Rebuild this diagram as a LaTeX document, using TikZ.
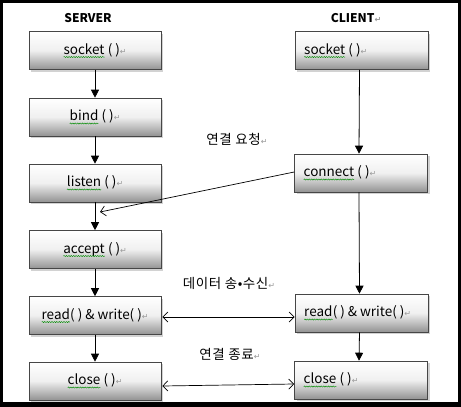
\documentclass[tikz,border=0pt]{standalone}
\usepackage{fontspec}
\setmainfont{Noto Sans CJK KR}
\newfontfamily\symf{DejaVu Sans}
\usetikzlibrary{arrows.meta,shadows,decorations.pathmorphing}
\newcommand\pmark{{\symf\fontsize{8}{9}\selectfont\color{gray!80}↵}}
\newcommand\wavy[1]{\tikz[baseline=(w.base)]{\node[inner sep=0pt,outer sep=0pt,anchor=center,shape=rectangle,draw=none,fill=none,minimum width=0pt,minimum height=0pt,text width={},align=center] (w) {#1};\draw[green!55!black,line width=0.45pt,decorate,decoration={snake,amplitude=0.55pt,segment length=2.4pt}] ([yshift=-2.8pt]w.base west) -- ([yshift=-2.8pt]w.base east);}}
\tikzset{
  box/.style={rectangle, draw=gray!55!black, line width=0.6pt,
    top color=white, bottom color=gray!85, middle color=gray!12,
    minimum width=132pt, minimum height=38pt, inner sep=0pt,
    font=\fontsize{13.5}{15}\selectfont,
    drop shadow={shadow xshift=2.2pt,shadow yshift=-2.2pt,opacity=0.35,fill=gray}},
  flow/.style={-{Triangle[length=8pt,width=8pt]}, line width=0.8pt},
  msg/.style={-{Straight Barb[length=5pt,width=10pt,line width=0.7pt]}, line width=0.7pt},
  msgboth/.style={{Straight Barb[length=5pt,width=10pt,line width=0.7pt]}-{Straight Barb[length=5pt,width=10pt,line width=0.7pt]}, line width=0.7pt},
  title/.style={font=\fontsize{12}{14}\selectfont\bfseries},
  klabel/.style={font=\fontsize{13.5}{15}\selectfont\addfontfeatures{LetterSpace=4}}
}
\begin{document}
\begin{tikzpicture}[x=1pt,y=-1pt]
\useasboundingbox (0,0) rectangle (461,407);
\fill[black] (0,0) rectangle (461,407);
\fill[white] (3,3) rectangle (458,402);
% titles
\node[title] (tserver) at (88,18) {SERVER};
\node[title] (tclient) at (356,18) {CLIENT\pmark};
% server boxes
\node[box] (ss) at (95,50.5) {\wavy{socket} ( )\pmark};
\node[box] (sb) at (95,117) {\wavy{bind} ( )\pmark};
\node[box] (sl) at (95,183) {\wavy{listen} ( )\pmark};
\node[box] (sa) at (95,249.5) {\wavy{accept} ( )\pmark};
\node[box] (sr) at (95,315.5) {\wavy{read}( ) \& write( )\pmark};
\node[box] (sc) at (95,381) {\wavy{close} ( )\pmark};
% client boxes
\node[box,minimum width=133pt] (cs) at (361.5,50.5) {\makebox[115pt][l]{\wavy{socket} ( )\pmark}};
\node[box,minimum width=133pt] (cn) at (361,173) {\makebox[115pt][l]{\wavy{connect} ( )\pmark}};
\node[box,minimum width=133pt] (cr) at (361.5,313) {\makebox[115pt][l]{\wavy{read}( ) \& write( )\pmark}};
\node[box,minimum width=133pt] (cc) at (361,380) {\makebox[115pt][l]{\wavy{close} ( )\pmark}};
% labels
\node[klabel] (l1) at (237,139) {연결 요청\pmark};
\node[klabel] (l2) at (229,283) {데이터 송•수신\pmark};
\node[klabel] (l3) at (230,354) {연결 종료\pmark};
% server flow
\draw[flow] (ss) -- (sb);
\draw[flow] (sb) -- (sl);
\draw[flow] (sl) -- (sa);
\draw[flow] (sa) -- (sr);
\draw[flow] (sr) -- (sc);
% client flow
\draw[flow] ([xshift=-2pt]cs.south) -- ([xshift=-2pt]cn.north);
\draw[flow] ([xshift=-2pt]cn.south) -- ([xshift=-2pt]cr.north);
\draw[flow] ([xshift=-2pt]cr.south) -- ([xshift=-2pt]cc.north);
% messages
\coordinate (tip) at (100,212);
\draw[msg] ([yshift=1pt]cn.west) -- (tip);
\draw[msgboth] ([yshift=-1.5pt,xshift=1pt]sr.east) -- ([yshift=-4pt]cr.west);
\draw[msgboth] ([yshift=-5pt,xshift=1pt]sc.east) -- ([yshift=-4pt]cc.west);
\end{tikzpicture}
\end{document}
